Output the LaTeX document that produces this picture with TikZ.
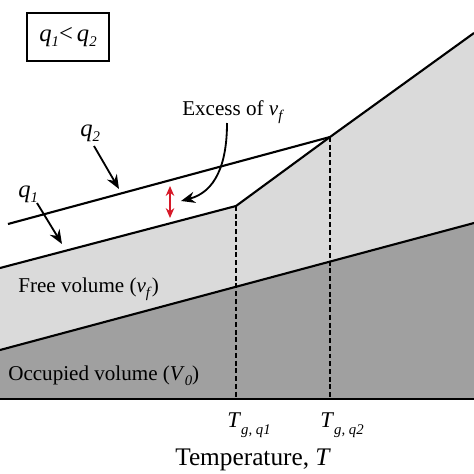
\documentclass[tikz,border=0pt]{standalone}
\usepackage{fontspec}
\setmainfont{Liberation Serif}
\usetikzlibrary{arrows.meta,positioning}
\definecolor{lightvol}{RGB}{218,218,218}
\definecolor{darkvol}{RGB}{160,160,160}
\definecolor{excessred}{RGB}{215,25,40}
\newcommand{\isub}[3][-4pt]{\textit{#2}\raisebox{#1}{\fontsize{10.5}{10.5}\selectfont\textit{#3}}}

\begin{document}
\begin{tikzpicture}[x=0.025cm,y=-0.025cm,
  vline/.style={line width=1.5pt},
  tgline/.style={line width=1.5pt, dash pattern=on 3.5pt off 2pt},
  pointer/.style={line width=1.3pt,-{Stealth[length=10pt,width=8pt]}},
  lbl/.style={font=\fontsize{15}{15}\selectfont, inner sep=0pt, anchor=base west}]
  \useasboundingbox (0,0) rectangle (474,474);

  % volume curves
  \coordinate(L1) at (0,268);
  \coordinate(G1) at (236,206);
  \coordinate(G2) at (330,137);
  \coordinate(R1) at (474,33);
  \coordinate(L2) at (8,224);
  \coordinate(L0) at (0,350);
  \coordinate(R0) at (474,223);
  \coordinate(B0) at (0,399);
  \coordinate(B1) at (474,399);
  \coordinate(D1) at (236,399);
  \coordinate(D2) at (330,399);

  \fill[lightvol] (L1) -- (G1) -- (G2) -- (R1) -- (B1) -- (B0) -- cycle;
  \fill[darkvol] (L0) -- (R0) -- (B1) -- (B0) -- cycle;

  \draw[vline] (L1) -- (G1) -- (G2) -- (R1);
  \draw[vline] (L2) -- (G2);
  \draw[vline] (L0) -- (R0);
  \draw[tgline] (G1) -- (D1);
  \draw[tgline] (G2) -- (D2);
  \draw[line width=2pt] (B0) -- (B1);

  % labels
  \node(Box)[draw, line width=1.3pt, minimum width=2.05cm, minimum height=1.22cm,
    font=\fontsize{17.5}{17.5}\selectfont] at (68,37) {\isub{q}{1}<\,\isub{q}{2}};

  \node(NQ2)[lbl, font=\fontsize{17.5}{17.5}\selectfont] at (80,136) {\isub{q}{2}};
  \node(NQ1)[lbl, font=\fontsize{17.5}{17.5}\selectfont] at (18,197) {\isub{q}{1}};
  \coordinate(Q2a) at (94,146);
  \coordinate(Q2b) at (119,189);
  \coordinate(Q1a) at (37,203);
  \coordinate(Q1b) at (62,244);
  \draw[pointer] (Q2a) -- (Q2b);
  \draw[pointer] (Q1a) -- (Q1b);

  \node(NEx)[lbl] at (182,115) {Excess of \isub{v}{f}};
  \coordinate(Ea) at (227,123);
  \coordinate(Eb) at (181,201);
  \draw[pointer] (Ea) .. controls (227,165) and (215,192) .. (Eb);

  \coordinate(Xa) at (170,186);
  \coordinate(Xb) at (170,218);
  \draw[excessred, line width=1.5pt, {Stealth[length=7pt,width=6pt]}-{Stealth[length=7pt,width=6pt]}] (Xa) -- (Xb);

  \node(NFree)[lbl] at (18,292) {Free volume (\isub{v}{f})};
  \node(NOcc)[lbl] at (8,380) {Occupied volume (\isub{V}{0})};

  \node(NT1)[lbl, font=\fontsize{16}{16}\selectfont] at (227,427) {\isub[-5.5pt]{T}{g, q1}};
  \node(NT2)[lbl, font=\fontsize{16}{16}\selectfont] at (320,427) {\isub[-5.5pt]{T}{g, q2}};
  \node(NTemp)[lbl, font=\fontsize{18}{18}\selectfont] at (175,465) {Temperature, \textit{T}};
\end{tikzpicture}
\end{document}
